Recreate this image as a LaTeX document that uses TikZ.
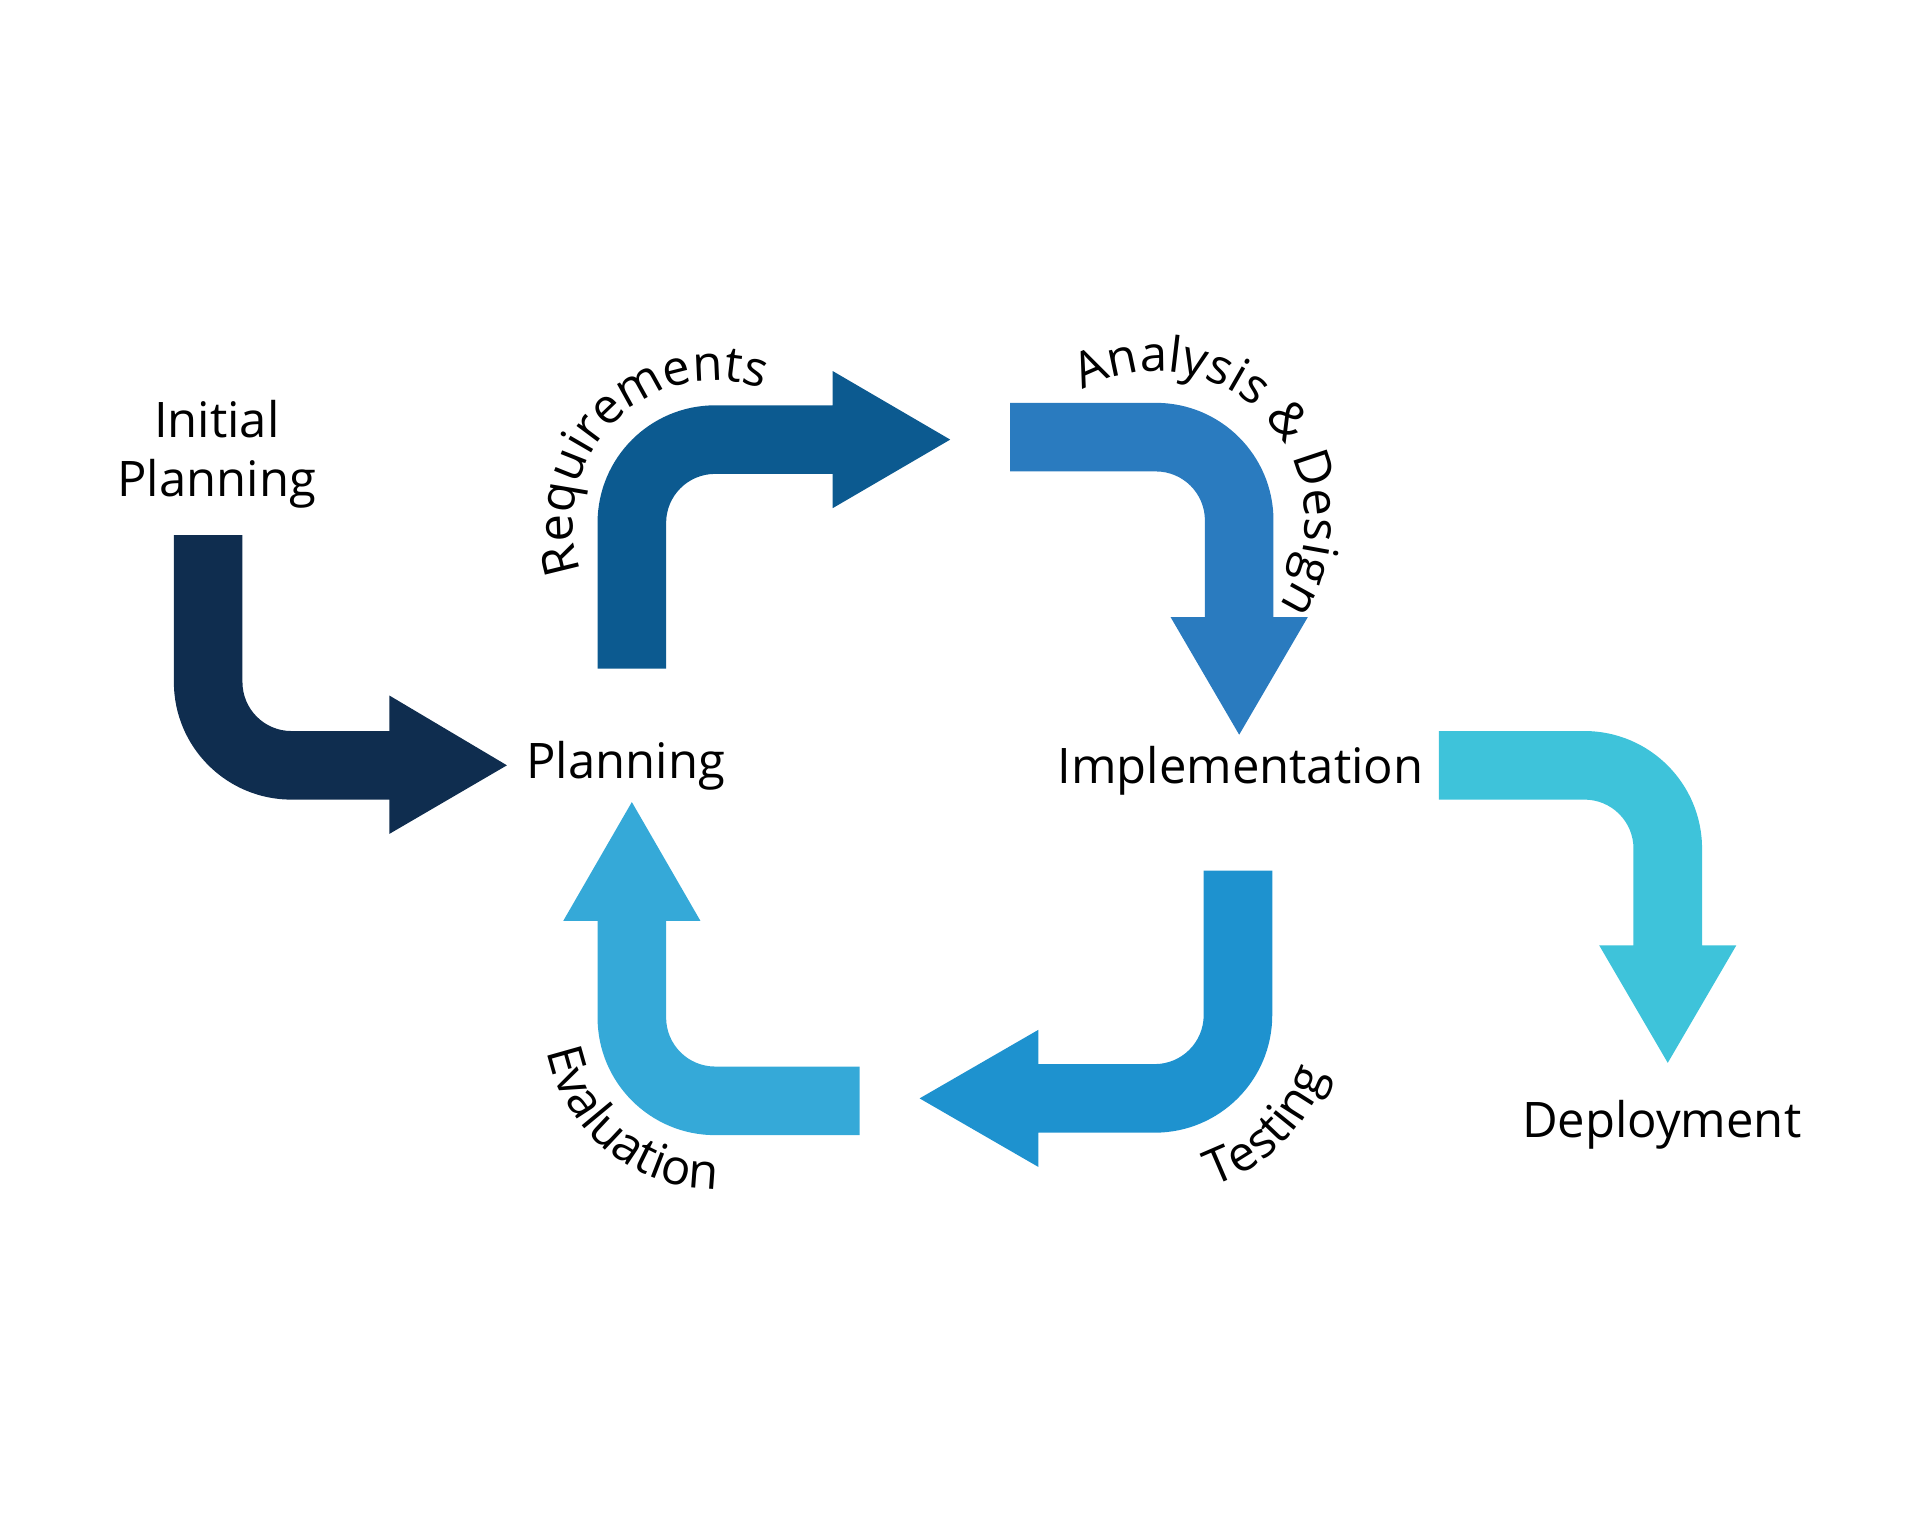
\documentclass[tikz,border=0pt]{standalone}
\usepackage{fontspec}
\setmainfont{Open Sans}
\usetikzlibrary{decorations.text}
\definecolor{cA}{HTML}{0F2D4F}
\definecolor{cB}{HTML}{0C5A90}
\definecolor{cC}{HTML}{2A7BBF}
\definecolor{cD}{HTML}{3EC3DA}
\definecolor{cE}{HTML}{1E92CF}
\definecolor{cF}{HTML}{35A9D8}
\newcommand\lblfont{\fontsize{40}{48}\selectfont}
\begin{document}
\begin{tikzpicture}[x=1pt,y=-1pt,
  lbl/.style={font=\lblfont,inner sep=0pt,align=center},
  arc text/.style={decorate,decoration={text along path,text align=center,text={|\lblfont|#1}}}]
\useasboundingbox (0,0) rectangle (1568,1254);
% arrows
\fill[cA] (142,437) -- (198,437) -- (198,557) arc[start angle=180,end angle=90,radius=40] -- (318,597) -- (318,568) -- (414,625) -- (318,681) -- (318,653) -- (238,653) arc[start angle=90,end angle=180,radius=96] -- cycle;
\fill[cB] (488,546) -- (488,427) arc[start angle=180,end angle=270,radius=96] -- (680,331) -- (680,303) -- (776,359) -- (680,415) -- (680,387) -- (584,387) arc[start angle=270,end angle=180,radius=40] -- (544,546) -- cycle;
\fill[cC] (825,329) -- (944,329) arc[start angle=270,end angle=360,radius=96] -- (1040,504) -- (1068,504) -- (1012,600) -- (956,504) -- (984,504) -- (984,425) arc[start angle=0,end angle=-90,radius=40] -- (825,385) -- cycle;
\fill[cD] (1175,597) -- (1294,597) arc[start angle=270,end angle=360,radius=96] -- (1390,772) -- (1418,772) -- (1362,868) -- (1306,772) -- (1334,772) -- (1334,693) arc[start angle=0,end angle=-90,radius=40] -- (1175,653) -- cycle;
\fill[cE] (983,711) -- (1039,711) -- (1039,829) arc[start angle=0,end angle=90,radius=96] -- (848,925) -- (848,953) -- (751,897) -- (848,841) -- (848,869) -- (943,869) arc[start angle=90,end angle=0,radius=40] -- cycle;
\fill[cF] (702,871) -- (702,927) -- (584,927) arc[start angle=90,end angle=180,radius=96] -- (488,752) -- (460,752) -- (516,655) -- (572,752) -- (544,752) -- (544,831) arc[start angle=180,end angle=90,radius=40] -- cycle;
% labels
\node[lbl] (init) at (177,371) {Initial\\Planning};
\node[lbl,anchor=base] (plan) at (511,636) {Planning};
\node[lbl,anchor=base] (impl) at (1013,640) {Implementation};
\node[lbl,anchor=base] (depl) at (1357,929) {Deployment};
% curved labels
\path[arc text={Requirements}] (584,427) ++(150:116) arc[start angle=150,end angle=300,radius=116];
\path[arc text={Analysis {\&} Design}] (944,425) ++(235:122) arc[start angle=235,end angle=400,radius=122];
\path[arc text={Testing}] (943,829) ++(90:148) arc[start angle=90,end angle=0,radius=148];
\path[arc text={Evaluation}] (584,831) ++(182:140) arc[start angle=182,end angle=76,radius=140];
\end{tikzpicture}
\end{document}
